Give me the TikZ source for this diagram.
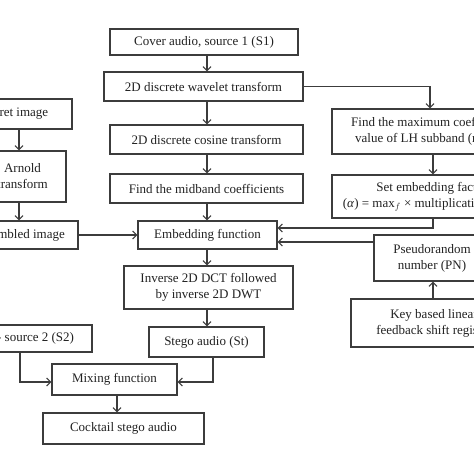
\documentclass[tikz,border=0pt]{standalone}
\usepackage{fontspec}
\setmainfont{Liberation Serif}
\usetikzlibrary{arrows.meta}
\definecolor{linec}{HTML}{3C3C3C}
\definecolor{textc}{HTML}{222222}
\begin{document}
\begin{tikzpicture}[x=1pt,y=-1pt,
  box/.style={draw=linec, line width=1.3pt, inner sep=0pt, align=center, text=textc,
    font=\fontsize{13}{16}\selectfont},
  flow/.style={draw=linec, line width=1.1pt, -{Straight Barb[length=4pt,width=8pt]}}]
\useasboundingbox (0,0) rectangle (474,474);
\fill[white] (0,0) rectangle (474,474);
\clip (0,0) rectangle (474,474);
% centre column
\node[box, minimum width=188pt, minimum height=26pt] (s1) at (204,42) {Cover audio, source 1 (S1)};
\node[box, minimum width=199pt, minimum height=29pt] (dwt) at (203.5,86.5) {2D discrete wavelet transform};
\node[box, minimum width=193pt, minimum height=29pt] (dct) at (206.5,139.5) {2D discrete cosine transform};
\node[box, minimum width=193pt, minimum height=29pt] (mid) at (206.5,188.5) {Find the midband coefficients};
\node[box, minimum width=139pt, minimum height=28pt] (emb) at (207.5,235) {Embedding function};
\node[box, minimum width=169pt, minimum height=43pt] (inv) at (208.5,287.5) {Inverse 2D DCT followed\\by inverse 2D DWT};
\node[box, minimum width=115pt, minimum height=30pt] (stego) at (206.5,342) {Stego audio (St)};
\node[box, minimum width=125pt, minimum height=31pt] (mix) at (114.5,379.5) {Mixing function};
\node[box, minimum width=161pt, minimum height=31pt] (cock) at (123.5,428.5) {Cocktail stego audio};
% left column
\node[box, minimum width=115pt, minimum height=30pt] (secret) at (14.5,114) {Secret image};
\node[box, minimum width=87pt, minimum height=51pt] (arnold) at (22.5,176.5) {Arnold\\transform};
\node[box, minimum width=117pt, minimum height=28pt] (scr) at (19.5,235) {Scrambled image};
\node[box, minimum width=180pt, minimum height=27pt] (s2) at (2,338.5) {Cover audio - source 2 (S2)};
% right column
\node[box, minimum width=196pt, minimum height=45pt] (max) at (430,131.5) {Find the maximum coefficient\\value of LH subband (max$_f$)};
\node[box, minimum width=200pt, minimum height=43pt] (set) at (432,196.5) {Set embedding factor\\(\textit{α}) = max$_f$ × multiplication factor};
\node[box, minimum width=116pt, minimum height=46pt] (pn) at (432,258) {Pseudorandom\\number (PN)};
\node[box, minimum width=166pt, minimum height=48pt] (key) at (434,323) {Key based linear\\feedback shift register};
% guide coordinates
\coordinate (colC) at (207,0);
\coordinate (colR) at (433,0);
\coordinate (colL) at (19,0);
\coordinate (colS) at (20,0);
\coordinate (colT) at (213,0);
\coordinate (colM) at (117,0);
% connectors
\draw[flow] (s1.south -| colC) -- (dwt.north -| colC);
\draw[flow] (dwt.south -| colC) -- (dct.north -| colC);
\draw[flow] (dct.south -| colC) -- (mid.north -| colC);
\draw[flow] (mid.south -| colC) -- (emb.north -| colC);
\draw[flow] (emb.south -| colC) -- (inv.north -| colC);
\draw[flow] (inv.south -| colC) -- (stego.north -| colC);
\draw[flow] (dwt.east) -| (max.north);
\draw[flow] (max.south -| colR) -- (set.north -| colR);
\draw[flow] (set.south -| colR) |- ([yshift=7pt]emb.east);
\draw[flow] ([yshift=-7pt]emb.east -| pn.west) -- ([yshift=-7pt]emb.east);
\draw[flow] (key.north -| colR) -- (pn.south -| colR);
\draw[flow] (secret.south -| colL) -- (arnold.north -| colL);
\draw[flow] (arnold.south -| colL) -- (scr.north -| colL);
\draw[flow] (scr) -- (emb);
\draw[flow] (s2.south -| colS) |- ([yshift=-2.5pt]mix.west);
\draw[flow] (stego.south -| colT) |- ([yshift=-2.5pt]mix.east);
\draw[flow] (mix.south -| colM) -- (cock.north -| colM);
\end{tikzpicture}
\end{document}
